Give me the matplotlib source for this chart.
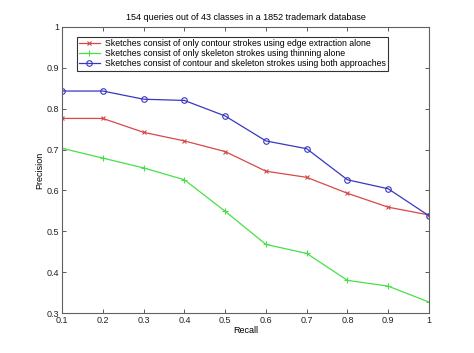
import matplotlib
matplotlib.use("Agg")
import matplotlib.pyplot as plt

plt.rcParams['font.family'] = ['Liberation Sans', 'DejaVu Sans']

recall = [0.1, 0.2, 0.3, 0.4, 0.5, 0.6, 0.7, 0.8, 0.9, 1.0]
contour = [0.776, 0.776, 0.742, 0.721, 0.695, 0.647, 0.632, 0.593, 0.559, 0.540]
skeleton = [0.703, 0.679, 0.655, 0.626, 0.549, 0.468, 0.446, 0.380, 0.366, 0.327]
both = [0.843, 0.843, 0.823, 0.820, 0.782, 0.721, 0.702, 0.626, 0.604, 0.538]
labels = ["Sketches consist of only contour strokes using edge extraction alone",
          "Sketches consist of only skeleton strokes using thinning alone",
          "Sketches consist of contour and skeleton strokes using both approaches"]
title = "154 queries out of 43 classes in a 1852 trademark database"

fig = plt.figure(figsize=(4.74, 3.53), dpi=100)
ax = fig.add_axes([0.131, 0.113, 0.774, 0.811])
ax.plot(recall, contour, color='#d84848', marker='x', markersize=3.2, lw=0.9, mew=0.8, label=labels[0])
ax.plot(recall, skeleton, color='#48e048', marker='+', markersize=4.5, lw=0.9, mew=0.8, label=labels[1])
ax.plot(recall, both, color='#3838c0', marker='o', markersize=4, lw=0.9, mew=0.8, mfc='none', label=labels[2])

ax.set_xlim(0.1, 1.0)
ax.set_ylim(0.3, 1.0)
ax.set_xticks([0.1, 0.2, 0.3, 0.4, 0.5, 0.6, 0.7, 0.8, 0.9, 1.0])
ax.set_xticklabels(['0.1', '0.2', '0.3', '0.4', '0.5', '0.6', '0.7', '0.8', '0.9', '1'])
ax.set_yticks([0.3, 0.4, 0.5, 0.6, 0.7, 0.8, 0.9, 1.0])
ax.set_yticklabels(['0.3', '0.4', '0.5', '0.6', '0.7', '0.8', '0.9', '1'])
ax.tick_params(direction='in', top=True, right=True, labelsize=6.5, length=3, width=0.6, colors='#404040', labelcolor='#222222', pad=2)
for s in ax.spines.values():
    s.set_color('#606060')
    s.set_linewidth(0.8)
ax.set_xlabel('Recall', fontsize=6.5, labelpad=1)
ax.set_ylabel('Precision', fontsize=6.5, labelpad=2)
ax.set_title(title, fontsize=6.5, pad=5)
leg = ax.legend(loc='upper left', bbox_to_anchor=(0.04, 0.965), fontsize=6.3, frameon=True,
                fancybox=False, edgecolor='black', handlelength=2.3, handletextpad=0.6,
                borderpad=0.3, labelspacing=0.1, borderaxespad=0)
leg.get_frame().set_linewidth(0.8)
fig.savefig('out.png', dpi=100)
